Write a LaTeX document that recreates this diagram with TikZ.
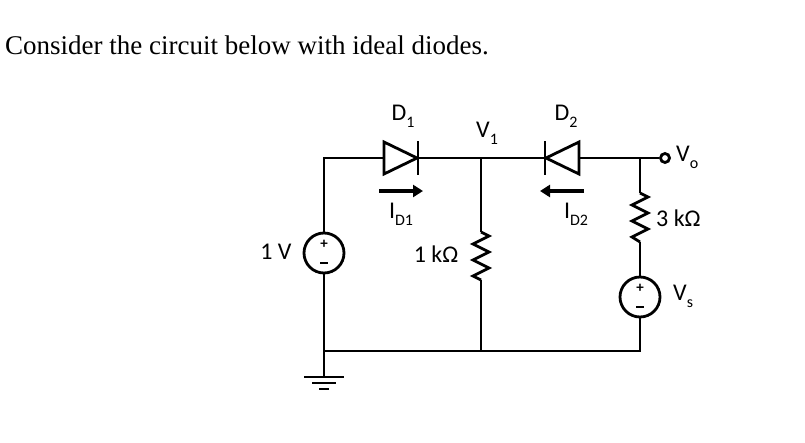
\documentclass[tikz,border=0pt]{standalone}
\usepackage{fontspec}
\setmainfont{Liberation Serif}
\newfontfamily\lab{Carlito}
\usetikzlibrary{arrows.meta}
\newcommand{\sbs}[1]{\raisebox{-0.3em}{\fontsize{16}{16}\selectfont #1}}
\begin{document}
\begin{tikzpicture}[x=1pt,y=-1pt,
  w/.style={line width=2.8pt},
  t/.style={font=\lab\fontsize{24}{26}\selectfont, inner sep=0pt},
  arr/.style={line width=3.5pt,-{Triangle[length=10pt,width=12pt]}}]
\useasboundingbox (0,0) rectangle (805,442);
\node[anchor=west,font=\fontsize{27}{30}\selectfont,inner sep=0pt] (title) at (5,45) {Consider the circuit below with ideal diodes.};
% nodes
\coordinate (tl) at (324,158); \coordinate (tm) at (481,158); \coordinate (tr) at (640,158);
\coordinate (bl) at (324,351); \coordinate (bm) at (481,351); \coordinate (br) at (640,351);
\node[draw,w,circle,minimum size=40pt,inner sep=0pt] (s1) at (324,253) {};
\node[draw,w,circle,minimum size=40pt,inner sep=0pt] (s2) at (640,297) {};
\node[draw,w,circle,minimum size=9pt,inner sep=0pt,fill=white] (vo) at (665,158) {};
% wires
\draw[w] (s1.north) -- (tl) -- (384,158);
\draw[w] (418,158) -- (545,158);
\draw[w] (580,158) -- (vo.west);
\draw[w] (tr) -- (640,193);
\draw[w] (640,242) -- (s2.north);
\draw[w] (s2.south) -- (br) -- (bl) -- (s1.south);
\draw[w] (tm) -- (481,232);
\draw[w] (481,280) -- (bm);
% resistors
\draw[w,line join=miter] (481,232) -- (489,236) -- (473,244) -- (489,252) -- (473,260) -- (489,268) -- (473,276) -- (481,280);
\draw[w,line join=miter] (640,193) -- (648,197) -- (632,205) -- (648,213) -- (632,221) -- (648,229) -- (632,237) -- (640,242);
% diodes
\draw[w] (384,142) -- (417,158) -- (384,174) -- cycle;
\draw[w] (418,141) -- (418,175);
\draw[w] (579,142) -- (546,158) -- (579,174) -- cycle;
\draw[w] (545,141) -- (545,175);
% ground
\draw[w] (bl) -- (324,377);
\draw[w] (304,377) -- (344,377);
\draw[w] (312,383) -- (336,383);
\draw[w] (319,389) -- (329,389);
% source signs
\node[t,font=\lab\bfseries\fontsize{15}{15}\selectfont] (p1) at (324,244) {+};
\draw[w] (320,263) -- (328,263);
\node[t,font=\lab\bfseries\fontsize{15}{15}\selectfont] (p2) at (640,288) {+};
\draw[w] (636,307) -- (644,307);
% arrows
\draw[arr] (379,191) -- (423,191);
\draw[arr] (584,191) -- (540,191);
% labels
\node[t] (l1) at (403,116) {D\sbs{1}};
\node[t] (l2) at (566,116) {D\sbs{2}};
\node[t] (l3) at (487,133) {V\sbs{1}};
\node[t] (l4) at (401,214) {I\sbs{D1}};
\node[t] (l5) at (576,214) {I\sbs{D2}};
\node[t,anchor=west] (l6) at (676,157) {V\sbs{o}};
\node[t] (l7) at (276,252) {1 V};
\node[t] (l8) at (436,254) {1 kΩ};
\node[t,anchor=west] (l9) at (656,218) {3 kΩ};
\node[t,anchor=west] (l10) at (673,296) {V\sbs{s}};
\end{tikzpicture}
\end{document}
